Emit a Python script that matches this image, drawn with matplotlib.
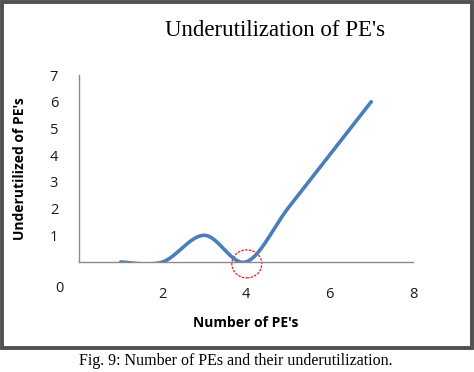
import numpy as np
import matplotlib.pyplot as plt
from matplotlib.patches import Rectangle, Ellipse

# data
num_pes = [1, 2, 3, 4, 5, 6, 7]
underutilized = [0, 0, 1, 0, 2, 4, 6]
x_ticks = [2, 4, 6, 8]
y_ticks = [1, 2, 3, 4, 5, 6, 7]


def smooth(xs, ys, n=40):
    # catmull-rom style smoothing like the spreadsheet "smoothed line"
    xs = np.asarray(xs, float)
    ys = np.asarray(ys, float)
    px = np.concatenate(([xs[0]], xs, [xs[-1]]))
    py = np.concatenate(([ys[0]], ys, [ys[-1]]))
    ox, oy = [], []
    for i in range(1, len(px) - 2):
        t = np.linspace(0, 1, n)
        for p, out in ((px, ox), (py, oy)):
            p0, p1, p2, p3 = p[i - 1], p[i], p[i + 1], p[i + 2]
            c1 = p1 + (p2 - p0) / 6
            c2 = p2 - (p3 - p1) / 6
            out.extend((1 - t) ** 3 * p1 + 3 * (1 - t) ** 2 * t * c1
                       + 3 * (1 - t) * t ** 2 * c2 + t ** 3 * p2)
    return np.array(ox), np.array(oy)


fig = plt.figure(figsize=(4.74, 3.72), dpi=100)

# frame around the chart area
fig.patches.append(Rectangle((1.5, 372 - 348), 470, 346, transform=None,
                             fill=False, edgecolor='#505050', linewidth=2.8))

ax = fig.add_axes([79 / 474, 1 - 262 / 372, 334 / 474, 187 / 372])
sx, sy = smooth(num_pes, underutilized)
ax.plot(sx, sy, color='#4A7EBB', linewidth=2.6, solid_capstyle='round')

ax.add_patch(Ellipse((4.02, -0.07), 0.72, 1.05, fill=False, edgecolor='#e8202a',
                     linewidth=0.9, linestyle=(0, (2, 1)), clip_on=False))

ax.set_xlim(0, 8)
ax.set_ylim(0, 7)
ax.set_xticks(x_ticks)
ax.set_yticks(y_ticks)
ax.tick_params(length=0, labelsize=10.5, colors='#1a1a1a')
ax.tick_params(axis='x', pad=18)
ax.tick_params(axis='y', pad=15)
for lab in ax.get_xticklabels() + ax.get_yticklabels():
    lab.set_family('Open Sans')
for s in ['top', 'right']:
    ax.spines[s].set_visible(False)
for s in ['left', 'bottom']:
    ax.spines[s].set_color('#8a8a8a')
    ax.spines[s].set_linewidth(1)

fig.text(59 / 474, 1 - 289 / 372, '0', ha='center', va='center', fontsize=10.5,
         family='Open Sans', color='#1a1a1a')

ax.set_xlabel("Number of PE's", fontsize=10, fontweight='bold', family='Open Sans', labelpad=10)
ax.set_ylabel("Underutilized of PE's", fontsize=10, fontweight='bold', family='Open Sans', labelpad=16)

fig.text(275 / 474, 1 - 30 / 372, "Underutilization of PE's", ha='center', va='center',
         fontsize=16.5, family='Liberation Serif')
fig.text(236 / 474, 1 - 361 / 372, "Fig. 9: Number of PEs and their underutilization.",
         ha='center', va='center', fontsize=11.5, family='Liberation Serif')

fig.savefig('out.png', dpi=100)
